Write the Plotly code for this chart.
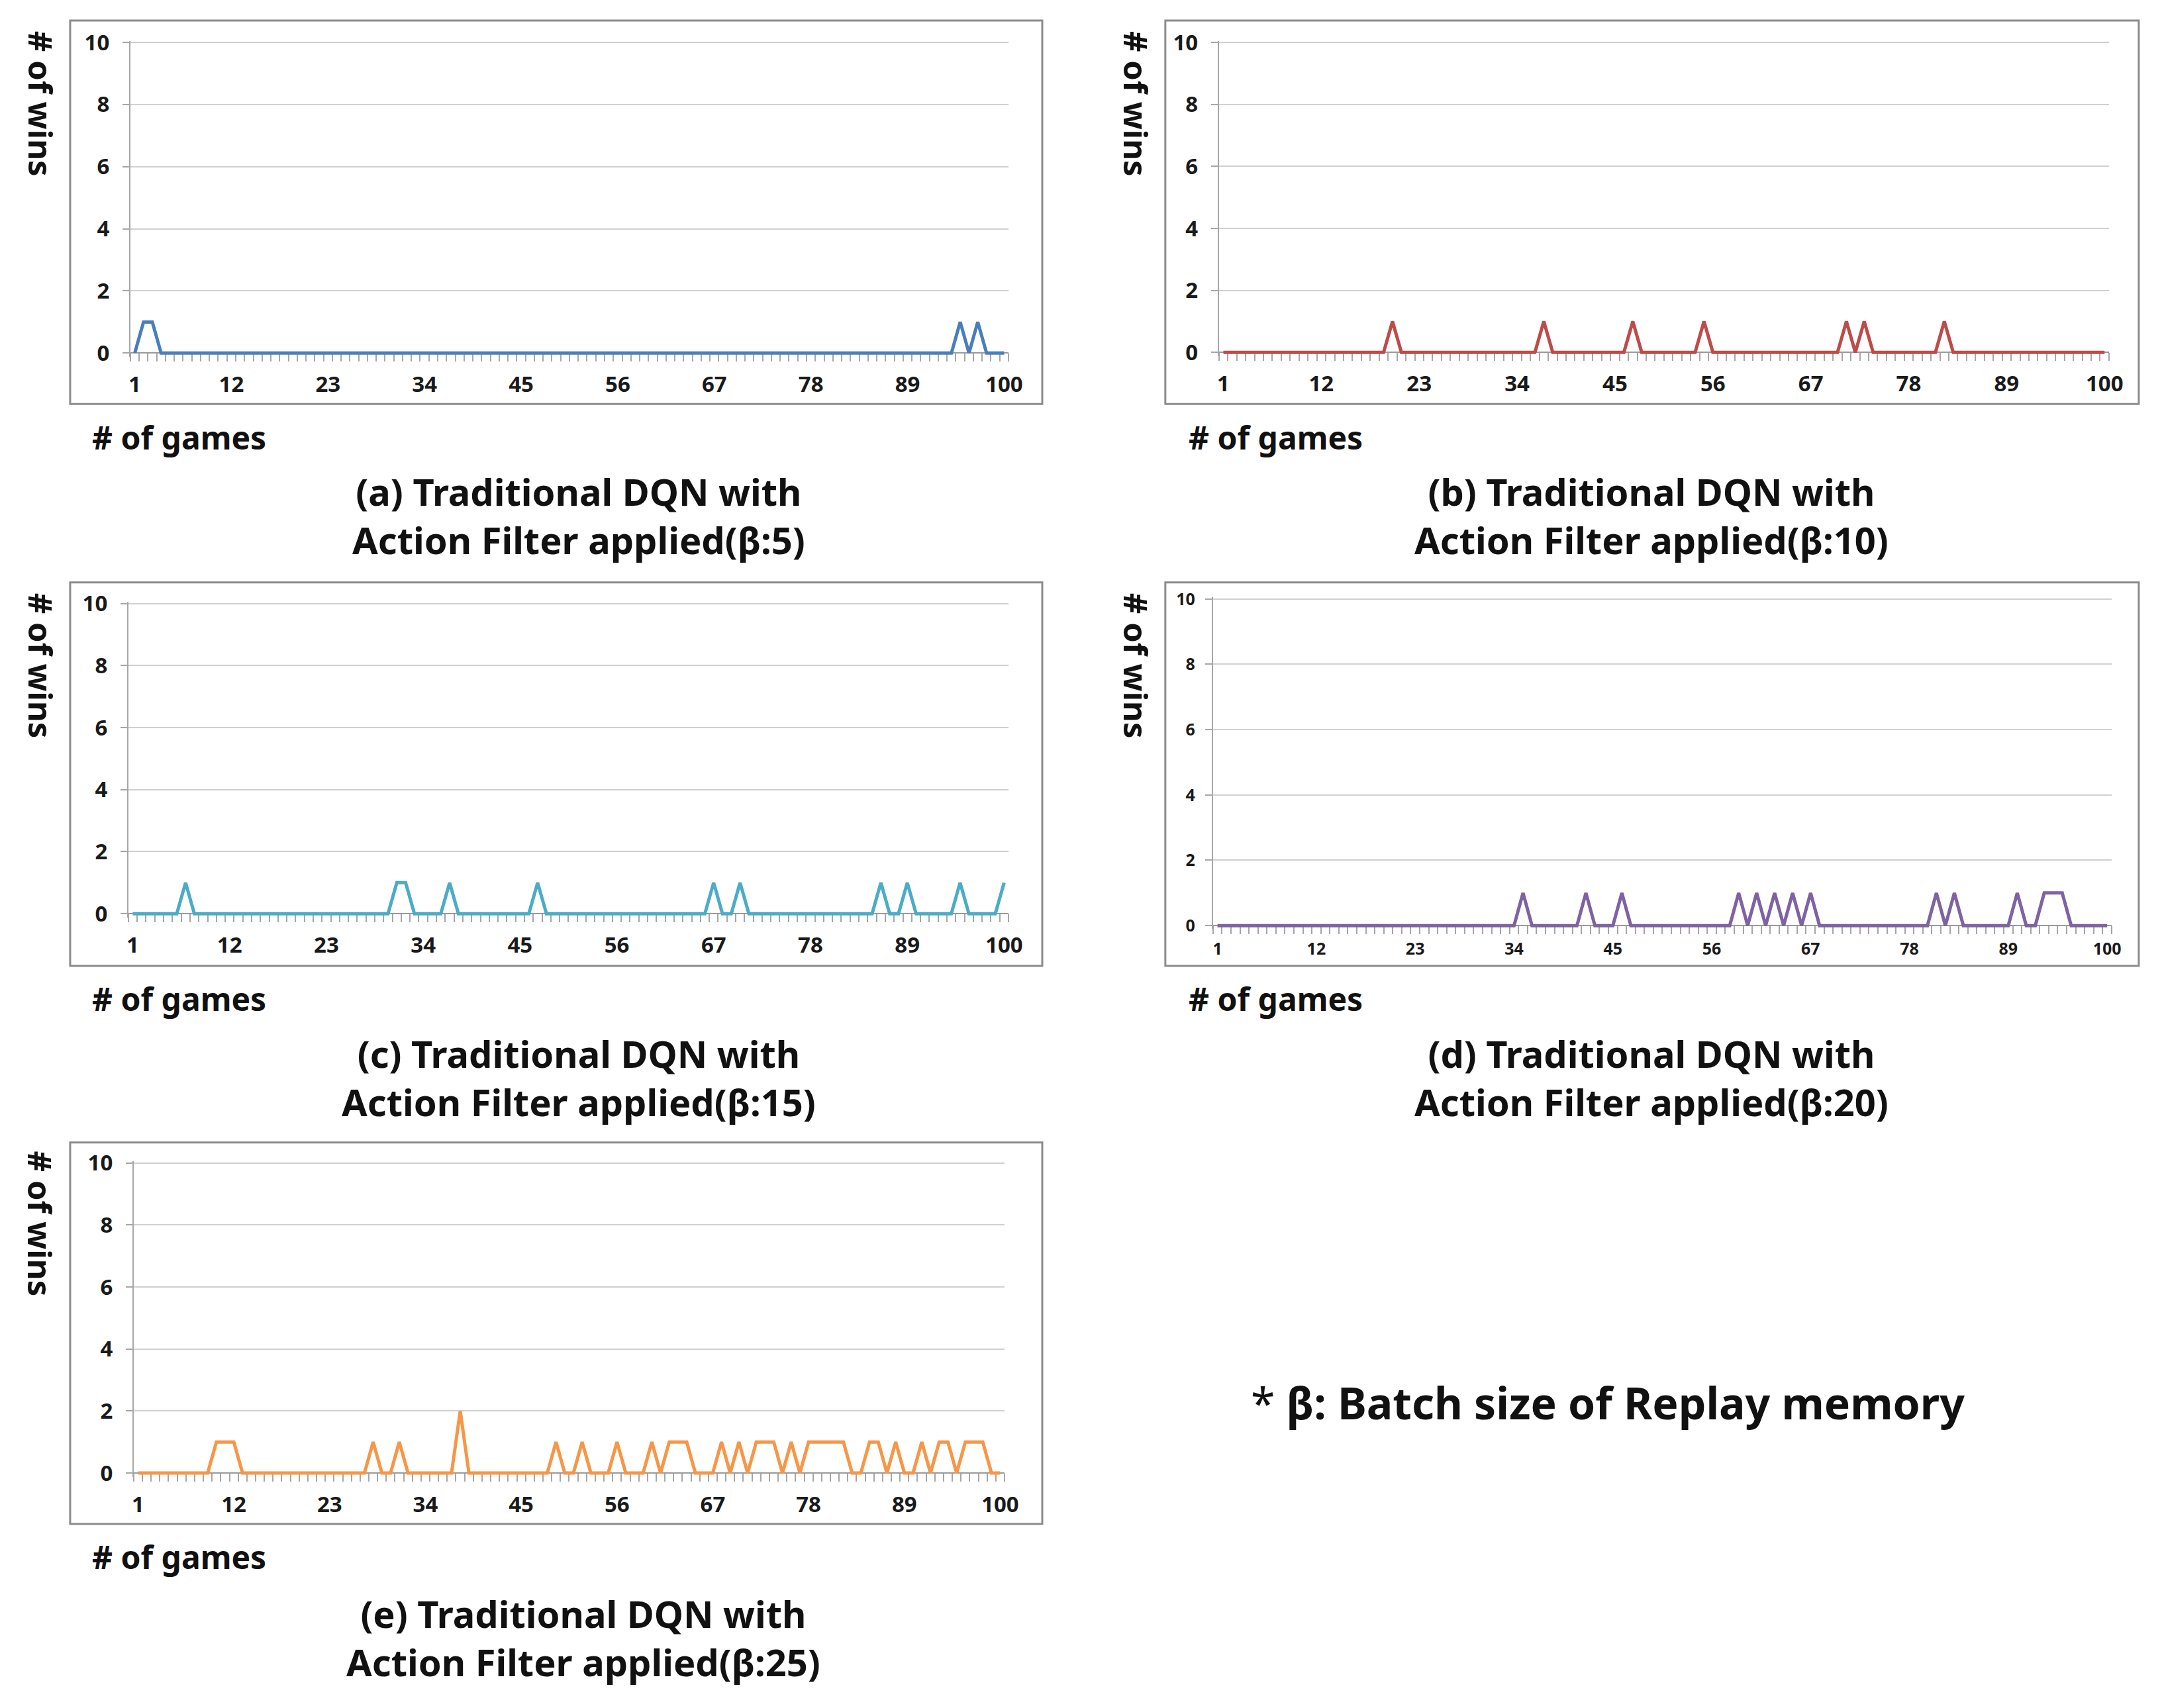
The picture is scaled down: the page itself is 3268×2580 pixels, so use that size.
import plotly.graph_objects as go

# number of wins per game (games 1..100)
games = list(range(1, 101))

wins_a = [
    0, 1, 1, 0, 0, 0, 0, 0, 0, 0, 0, 0, 0, 0, 0, 0, 0, 0, 0, 0,
    0, 0, 0, 0, 0, 0, 0, 0, 0, 0, 0, 0, 0, 0, 0, 0, 0, 0, 0, 0,
    0, 0, 0, 0, 0, 0, 0, 0, 0, 0, 0, 0, 0, 0, 0, 0, 0, 0, 0, 0,
    0, 0, 0, 0, 0, 0, 0, 0, 0, 0, 0, 0, 0, 0, 0, 0, 0, 0, 0, 0,
    0, 0, 0, 0, 0, 0, 0, 0, 0, 0, 0, 0, 0, 0, 1, 0, 1, 0, 0, 0,
]
wins_b = [
    0, 0, 0, 0, 0, 0, 0, 0, 0, 0, 0, 0, 0, 0, 0, 0, 0, 0, 0, 1,
    0, 0, 0, 0, 0, 0, 0, 0, 0, 0, 0, 0, 0, 0, 0, 0, 1, 0, 0, 0,
    0, 0, 0, 0, 0, 0, 1, 0, 0, 0, 0, 0, 0, 0, 1, 0, 0, 0, 0, 0,
    0, 0, 0, 0, 0, 0, 0, 0, 0, 0, 1, 0, 1, 0, 0, 0, 0, 0, 0, 0,
    0, 1, 0, 0, 0, 0, 0, 0, 0, 0, 0, 0, 0, 0, 0, 0, 0, 0, 0, 0,
]
wins_c = [
    0, 0, 0, 0, 0, 0, 1, 0, 0, 0, 0, 0, 0, 0, 0, 0, 0, 0, 0, 0,
    0, 0, 0, 0, 0, 0, 0, 0, 0, 0, 1, 1, 0, 0, 0, 0, 1, 0, 0, 0,
    0, 0, 0, 0, 0, 0, 1, 0, 0, 0, 0, 0, 0, 0, 0, 0, 0, 0, 0, 0,
    0, 0, 0, 0, 0, 0, 1, 0, 0, 1, 0, 0, 0, 0, 0, 0, 0, 0, 0, 0,
    0, 0, 0, 0, 0, 1, 0, 0, 1, 0, 0, 0, 0, 0, 1, 0, 0, 0, 0, 1,
]
wins_d = [
    0, 0, 0, 0, 0, 0, 0, 0, 0, 0, 0, 0, 0, 0, 0, 0, 0, 0, 0, 0,
    0, 0, 0, 0, 0, 0, 0, 0, 0, 0, 0, 0, 0, 0, 1, 0, 0, 0, 0, 0,
    0, 1, 0, 0, 0, 1, 0, 0, 0, 0, 0, 0, 0, 0, 0, 0, 0, 0, 1, 0,
    1, 0, 1, 0, 1, 0, 1, 0, 0, 0, 0, 0, 0, 0, 0, 0, 0, 0, 0, 0,
    1, 0, 1, 0, 0, 0, 0, 0, 0, 1, 0, 0, 1, 1, 1, 0, 0, 0, 0, 0,
]
wins_e = [
    0, 0, 0, 0, 0, 0, 0, 0, 0, 1, 1, 1, 0, 0, 0, 0, 0, 0, 0, 0,
    0, 0, 0, 0, 0, 0, 0, 1, 0, 0, 1, 0, 0, 0, 0, 0, 0, 2, 0, 0,
    0, 0, 0, 0, 0, 0, 0, 0, 1, 0, 0, 1, 0, 0, 0, 1, 0, 0, 0, 1,
    0, 1, 1, 1, 0, 0, 0, 1, 0, 1, 0, 1, 1, 1, 0, 1, 0, 1, 1, 1,
    1, 1, 0, 0, 1, 1, 0, 1, 0, 0, 1, 0, 1, 1, 0, 1, 1, 1, 0, 0,
]

series = [wins_a, wins_b, wins_c, wins_d, wins_e]
captions = [
    "(a) Traditional DQN with<br>Action Filter applied(β:5)",
    "(b) Traditional DQN with<br>Action Filter applied(β:10)",
    "(c) Traditional DQN with<br>Action Filter applied(β:15)",
    "(d) Traditional DQN with<br>Action Filter applied(β:20)",
    "(e) Traditional DQN with<br>Action Filter applied(β:25)",
]
colors = ["#4A7EBB", "#BE4B48", "#4BACC6", "#7F62A1", "#F79646"]
y_ticks = [0, 2, 4, 6, 8, 10]
note = "* β: Batch size of Replay memory"

W, H = 3268, 2580
FONT = "Noto Sans"


# the page shows the figure slightly shifted/shrunk; map wanted screen px to paper
def fx(x):
    return ((x - 9) / 0.993) / W


def fy(y):
    return 1 - ((y - 27) / 0.987) / H


# pixel geometry of each small chart
panels = [
    dict(x0=195, x1=1522, y0=532, y10=62, box=(104, 29, 1573, 609), tick=33,
         wins=(60, 155), games=(135, 659), cap=(873, 778)),
    dict(x0=1840, x1=3185, y0=531, y10=62, box=(1759, 29, 3230, 609), tick=33,
         wins=(1715, 155), games=(1792, 659), cap=(2494, 778)),
    dict(x0=192, x1=1522, y0=1380, y10=911, box=(104, 879, 1573, 1459), tick=33,
         wins=(60, 1005), games=(135, 1509), cap=(873, 1628)),
    dict(x0=1831, x1=3189, y0=1398, y10=904, box=(1759, 879, 3230, 1459), tick=25,
         wins=(1715, 1005), games=(1792, 1509), cap=(2494, 1628)),
    dict(x0=200, x1=1516, y0=2226, y10=1757, box=(104, 1726, 1573, 2303), tick=33,
         wins=(60, 1849), games=(135, 2353), cap=(880, 2475)),
]

fig = go.Figure()
layout = dict(shapes=[], annotations=[])

for i, (p, vals, col, cap) in enumerate(zip(panels, series, colors, captions), start=1):
    sx = "" if i == 1 else str(i)
    fig.add_trace(go.Scatter(
        x=games, y=vals, mode="lines",
        line=dict(color=col, width=5),
        xaxis="x" + sx, yaxis="y" + sx, showlegend=False,
    ))
    unit = (p["y0"] - p["y10"]) / 10
    ybot = p["y0"] + 0.12 * unit
    ytop = p["y10"] - 0.05 * unit
    tickfont = dict(family=FONT, size=p["tick"], color="#1a1a1a", weight="bold")
    layout["xaxis" + sx] = dict(
        domain=[fx(p["x0"]), fx(p["x1"])], range=[0.5, 100.5],
        anchor="free", position=fy(p["y0"]),
        tickmode="linear", tick0=1, dtick=11, ticks="",
        ticklabelstandoff=int(p["tick"] * 0.55),
        tickfont=tickfont, showgrid=False, zeroline=False,
        showline=True, linecolor="#9a9a9a", linewidth=2,
        minor=dict(tickmode="linear", tick0=0.5, dtick=1, ticks="outside",
                   ticklen=12, tickwidth=2, tickcolor="#a6a6a6", showgrid=False),
        layer="below traces", fixedrange=True,
    )
    layout["yaxis" + sx] = dict(
        domain=[fy(ybot), fy(ytop)], range=[-0.12, 10.05],
        anchor="x" + sx, tickvals=y_ticks, ticks="outside", ticklen=10,
        tickwidth=2, tickcolor="#a6a6a6", tickfont=tickfont,
        ticklabelstandoff=int(p["tick"] * 0.4),
        showgrid=True, gridcolor="#d0d0d0", gridwidth=2, zeroline=False,
        showline=True, linecolor="#a6a6a6", linewidth=2,
        layer="below traces", fixedrange=True,
    )
    bx0, by0, bx1, by1 = p["box"]
    layout["shapes"].append(dict(
        type="rect", xref="paper", yref="paper",
        x0=fx(bx0), x1=fx(bx1), y0=fy(by1), y1=fy(by0),
        line=dict(color="#8c8c8c", width=3), layer="below",
    ))
    layout["annotations"].append(dict(
        text="# of wins", xref="paper", yref="paper",
        x=fx(p["wins"][0]), y=fy(p["wins"][1]), textangle=90,
        showarrow=False, xanchor="center", yanchor="middle",
        font=dict(family=FONT, size=49, color="#111111", weight="bold"),
    ))
    layout["annotations"].append(dict(
        text="# of games", xref="paper", yref="paper",
        x=fx(p["games"][0]), y=fy(p["games"][1]),
        showarrow=False, xanchor="left", yanchor="middle",
        font=dict(family=FONT, size=48, color="#111111", weight="bold"),
    ))
    layout["annotations"].append(dict(
        text=cap, xref="paper", yref="paper",
        x=fx(p["cap"][0]), y=fy(p["cap"][1]),
        showarrow=False, xanchor="center", yanchor="middle", align="center",
        font=dict(family=FONT, size=56, color="#111111", weight="bold"),
    ))

layout["annotations"].append(dict(
    text="* <b>" + note[2:] + "</b>", xref="paper", yref="paper",
    x=fx(1886), y=fy(2119), showarrow=False, xanchor="left", yanchor="middle",
    font=dict(family=FONT, size=66, color="#111111"),
))

fig.update_layout(
    width=W, height=H,
    margin=dict(l=0, r=0, t=0, b=0),
    paper_bgcolor="white", plot_bgcolor="white",
    **layout,
)

fig.write_html("out.html")
